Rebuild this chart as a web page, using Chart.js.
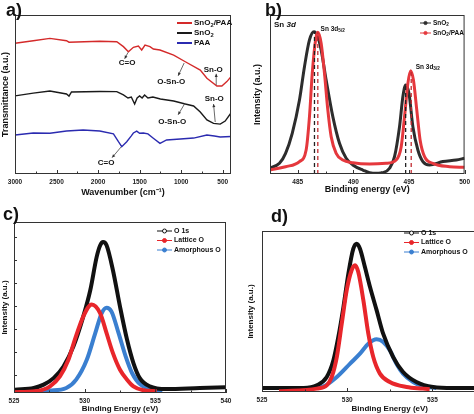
<!DOCTYPE html>
<html>
<head>
<meta charset="utf-8">
<script src="https://cdn.jsdelivr.net/npm/chart.js@4.4.1/dist/chart.umd.min.js"></script>
<style>
  html, body { margin: 0; padding: 0; background: #fff; width: 474px; height: 414px; overflow: hidden; }
  canvas { position: absolute; }
  .tag { position: absolute; font: bold 18px "Liberation Sans", Arial, sans-serif; color: #111; line-height: 18px; }
</style>
</head>
<body>
<canvas id="chartA" width="237" height="207" style="left:0;top:0"></canvas>
<canvas id="chartB" width="237" height="207" style="left:237px;top:0"></canvas>
<canvas id="chartC" width="237" height="207" style="left:0;top:207px"></canvas>
<canvas id="chartD" width="290" height="207" style="left:237px;top:207px"></canvas>
<div class="tag" style="left:6px;top:1px">a)</div>
<div class="tag" style="left:265px;top:1px">b)</div>
<div class="tag" style="left:3px;top:205px">c)</div>
<div class="tag" style="left:271px;top:207px">d)</div>
<script>
// a) FTIR spectra (wavenumber cm-1, transmittance a.u. with offsets)
const xTicksA = [500, 1000, 1500, 2000, 2500, 3000];
const wnSnO2PAA = [3000, 2780, 2580, 2380, 2350, 1980, 1775, 1695, 1635, 1575, 1515, 1475, 1435, 1375, 1335, 1255, 1090, 950, 770, 690, 570, 510, 450, 400];
const tSnO2PAA  = [82.2, 83.8, 85.3, 83.8, 82.9, 83.5, 83.2, 80.1, 76.9, 79.7, 80.5, 78.0, 81.1, 80.1, 78.6, 78.0, 74.8, 70.6, 65.4, 60.2, 55.3, 55.3, 58.1, 61.2];
const wnSnO2 = [3000, 2780, 2580, 2380, 2350, 2320, 1980, 1775, 1695, 1640, 1600, 1560, 1530, 1500, 1470, 1440, 1400, 1340, 1250, 1090, 950, 850, 770, 690, 610, 530, 470, 400];
const tSnO2  = [49.1, 50.9, 52.2, 50.3, 49.0, 51.6, 51.9, 51.8, 49.7, 47.8, 48.4, 44.0, 47.8, 49.1, 47.8, 49.7, 47.8, 48.4, 47.2, 45.9, 44.0, 42.8, 39.0, 34.0, 31.8, 31.4, 33.3, 38.4];
const wnPAA = [3000, 2780, 2580, 2380, 2180, 1980, 1815, 1755, 1715, 1655, 1600, 1575, 1535, 1500, 1455, 1400, 1335, 1255, 1175, 1010, 850, 690, 600, 530, 400];
const tPAA  = [24.5, 25.8, 25.6, 27.0, 27.7, 27.0, 25.2, 20.3, 17.2, 20.3, 24.0, 25.8, 27.0, 25.6, 25.8, 25.2, 22.5, 19.3, 21.4, 22.0, 22.6, 24.5, 23.9, 23.3, 23.6];

// b) Sn 3d XPS (binding energy eV, intensity a.u.)
const xTicksB = [485, 490, 495, 500];
const beSnO2 = [482.45, 483.35, 483.9, 484.5, 485.15, 485.6, 486.05, 486.45, 486.8, 487.1, 487.55, 488.15, 488.75, 489.35, 489.95, 490.85, 491.75, 492.65, 493.25, 493.7, 494.15, 494.45, 494.7, 495.0, 495.35, 495.8, 496.25, 496.85, 498.05, 499.25, 500];
const iSnO2  = [3.6, 6.7, 13, 25.6, 46.5, 67.5, 84.3, 89.5, 86.4, 78, 59.1, 36.1, 19.3, 9.9, 5.7, 2.5, 0.4, 0.8, 3.6, 10.9, 29.8, 48.6, 56, 50.7, 29.8, 15.1, 7.8, 5.7, 7.8, 8.8, 9.9];
const beSnO2PAA = [482.45, 483.9, 485.15, 485.75, 486.05, 486.3, 486.6, 486.8, 487.1, 487.4, 487.7, 488.0, 488.45, 489.05, 489.95, 491.45, 492.95, 493.85, 494.3, 494.6, 494.9, 495.15, 495.4, 495.7, 496.0, 496.4, 497.15, 498.65, 500];
const iSnO2PAA  = [2.5, 4.6, 7.8, 15.1, 36.1, 63.3, 84.3, 89.1, 82.2, 63.3, 40.3, 23.5, 13, 8.8, 7.1, 6.3, 6.7, 8.8, 17.2, 36.1, 57, 65, 59.1, 40.3, 21.4, 10.9, 6.7, 4.6, 4.2];
const peaksSnO2 = [486.5, 494.7];
const peakHSnO2 = [89.5, 56];
const peaksSnO2PAA = [486.8, 495.2];
const peakHSnO2PAA = [89.1, 65];

// c) O 1s, SnO2
const xTicksO = [525, 530, 535, 540];
const beO1sC = [525.07, 526.4, 527.1, 527.8, 528.5, 529.2, 529.9, 530.4, 530.85, 531.1, 531.3, 531.55, 532, 532.5, 533, 533.45, 533.9, 534.6, 535.8, 538.15, 540];
const iO1sC  = [1.9, 2.9, 4.9, 8.7, 15.5, 27.2, 44.7, 60.2, 79.6, 86.4, 88.3, 86.4, 71.8, 50.5, 31.1, 17.5, 8.7, 3.9, 2.3, 2.9, 3.3];
const beLatticeC = [525, 526.5, 527.55, 528.25, 528.85, 529.3, 529.9, 530.5, 531.1, 531.55, 532, 532.5, 533, 533.45, 534.15, 535.1];
const iLatticeC  = [0.5, 1.0, 3.9, 9.7, 19.4, 31.1, 44.7, 51.8, 46.6, 35, 23.3, 13.6, 7.8, 3.9, 1.6, 1];
const beAmorphC = [525, 527.55, 528.7, 529.4, 530.15, 530.75, 531.2, 531.55, 531.9, 532.4, 532.9, 533.35, 533.95, 534.9, 535.5];
const iAmorphC  = [0.5, 1.4, 2.9, 7.8, 19.4, 35, 46.6, 49.9, 47.6, 35, 21.4, 11.7, 4.9, 1.9, 1.6];
const yTicksC = [10.5, 24, 37.5, 51, 64.5, 78, 91.5];

// d) O 1s, SnO2/PAA
const beO1sD = [525, 527.44, 528.22, 528.8, 529.19, 529.48, 529.78, 530.07, 530.36, 530.56, 530.75, 531.04, 531.34, 531.73, 532.11, 532.7, 533.28, 534.06, 535.04, 536.21, 537.4, 540];
const iO1sD  = [2.5, 2.5, 4.1, 9.3, 19.7, 34.2, 52.8, 73.5, 89, 92.1, 89, 77.6, 65.2, 50.7, 36.2, 21.7, 12.4, 6.2, 3.1, 2.5, 2.5, 2.5];
const beLatticeD = [526, 528.22, 528.8, 529.09, 529.39, 529.68, 529.97, 530.26, 530.46, 530.65, 530.95, 531.24, 531.53, 531.92, 532.5, 533.48, 534.45, 534.84];
const iLatticeD  = [0.5, 2.1, 4.1, 9.3, 21.7, 42.4, 63.1, 75.6, 78.7, 74.5, 56.9, 36.2, 21.7, 11.4, 6.2, 3.1, 2.1, 1.7];
const beAmorphD = [527.0, 527.44, 528.61, 529.39, 530.17, 530.75, 531.24, 531.73, 532.11, 532.5, 532.89, 533.28, 533.87, 534.45, 535.23];
const iAmorphD  = [1.5, 2.1, 3.5, 9.3, 17.6, 23.8, 30, 32.7, 31.1, 25.9, 17.6, 11.4, 6.2, 3.5, 2.5];

const FAM = '"Liberation Sans", Arial, sans-serif';
const pts = (xs, ys) => xs.map((x, i) => ({x: x, y: ys[i]}));

function drawRich(ctx, parts, x, y, size, align) {
  const fontFor = (k, s) => (k === 'i' ? 'italic bold ' : 'bold ') + s + 'px ' + FAM;
  let w = 0;
  const items = parts.map(([t, k]) => {
    const s = (k === 'sub' || k === 'sup') ? size * 0.72 : size;
    ctx.font = fontFor(k, s);
    const tw = ctx.measureText(t).width;
    w += tw;
    return {t, k, s, tw};
  });
  let cx = align === 'center' ? x - w / 2 : (align === 'right' ? x - w : x);
  ctx.textAlign = 'left';
  ctx.textBaseline = 'middle';
  items.forEach(it => {
    ctx.font = fontFor(it.k, it.s);
    const dy = it.k === 'sub' ? size * 0.3 : (it.k === 'sup' ? -size * 0.35 : 0);
    ctx.fillText(it.t, cx, y + dy);
    cx += it.tw;
  });
}

// frame, inward ticks, notes, arrows and legend
const decor = {
  id: 'decor',
  afterDatasetsDraw(chart, args, o) {
    const {ctx, chartArea: a, scales: {x, y}} = chart;
    ctx.save();
    ctx.strokeStyle = '#333';
    ctx.lineWidth = 1;
    ctx.strokeRect(a.left + 0.5, a.top + 0.5, a.right - a.left - 1, a.bottom - a.top - 1);
    const start = Math.ceil(x.min / o.minorX - 1e-9) * o.minorX;
    for (let v = start; v <= x.max + 1e-9; v += o.minorX) {
      const px = Math.round(x.getPixelForValue(v)) + 0.5;
      const major = Math.abs(v / o.majorX - Math.round(v / o.majorX)) < 1e-6;
      ctx.beginPath();
      ctx.moveTo(px, a.bottom);
      ctx.lineTo(px, a.bottom - (major ? 4 : 2.5));
      ctx.stroke();
    }
    if (o.yTicks) {
      y.ticks.forEach(t => {
        const py = Math.round(y.getPixelForValue(t.value)) + 0.5;
        ctx.beginPath();
        ctx.moveTo(a.left, py);
        ctx.lineTo(a.left + 3, py);
        ctx.stroke();
      });
    }
    (o.arrows || []).forEach(ar => {
      const x1 = x.getPixelForValue(ar.x1), y1 = y.getPixelForValue(ar.y1);
      const x2 = x.getPixelForValue(ar.x2), y2 = y.getPixelForValue(ar.y2);
      ctx.strokeStyle = '#444';
      ctx.lineWidth = 0.8;
      ctx.beginPath();
      ctx.moveTo(x1, y1);
      ctx.lineTo(x2, y2);
      ctx.stroke();
      const ang = Math.atan2(y2 - y1, x2 - x1);
      ctx.fillStyle = '#333';
      ctx.beginPath();
      ctx.moveTo(x2, y2);
      ctx.lineTo(x2 - 3.5 * Math.cos(ang - 0.45), y2 - 3.5 * Math.sin(ang - 0.45));
      ctx.lineTo(x2 - 3.5 * Math.cos(ang + 0.45), y2 - 3.5 * Math.sin(ang + 0.45));
      ctx.closePath();
      ctx.fill();
    });
    ctx.fillStyle = '#111';
    (o.notes || []).forEach(n => {
      drawRich(ctx, n.parts, x.getPixelForValue(n.x), y.getPixelForValue(n.y), n.size, n.align);
    });
    const lg = o.legend;
    if (lg) {
      lg.items.forEach((it, i) => {
        const ly = lg.y + i * lg.dy;
        ctx.strokeStyle = it.color;
        ctx.lineWidth = lg.lw;
        ctx.beginPath();
        ctx.moveTo(lg.x, ly);
        ctx.lineTo(lg.x + lg.len, ly);
        ctx.stroke();
        if (it.marker) {
          ctx.beginPath();
          ctx.arc(lg.x + lg.len / 2, ly, lg.r, 0, Math.PI * 2);
          ctx.fillStyle = it.marker === 'open' ? '#fff' : it.color;
          ctx.fill();
          ctx.lineWidth = 1;
          ctx.stroke();
        }
        ctx.fillStyle = '#111';
        drawRich(ctx, it.parts, lg.x + lg.len + 2, ly, lg.size, 'left');
      });
    }
    ctx.restore();
  }
};
Chart.register(decor);

function makeOptions(p) {
  return {
    responsive: false,
    animation: false,
    devicePixelRatio: 1,
    layout: {padding: {top: p.top, right: p.right, left: 0, bottom: 0}},
    elements: {point: {radius: 0}, line: {tension: 0}},
    plugins: {legend: {display: false}, tooltip: {enabled: false}, decor: p.decor},
    scales: {
      x: {
        type: 'linear', min: p.xMin, max: p.xMax, reverse: !!p.reverse,
        afterFit: s => { s.height = p.xH; },
        afterBuildTicks: s => { s.ticks = p.xTicks.map(v => ({value: v})); },
        grid: {display: false, drawTicks: false},
        border: {display: false},
        ticks: {padding: p.tickPad, maxRotation: 0, autoSkip: false,
                callback: v => String(v),
                color: '#222', font: {family: FAM, size: 6.5, weight: 'bold'}},
        title: {display: true, text: p.xTitle, color: '#111', font: {family: FAM, size: p.titleSize, weight: 'bold'},
                padding: {top: 0, bottom: p.xTitlePad}}
      },
      y: {
        type: 'linear', min: 0, max: 100,
        afterFit: s => { s.width = p.yW; },
        afterBuildTicks: p.yTickList ? (s => { s.ticks = p.yTickList.map(v => ({value: v})); }) : undefined,
        grid: {display: false, drawTicks: false},
        border: {display: false},
        ticks: {display: false},
        title: {display: true, text: p.yTitle || 'Intensity (a.u.)', color: '#111', font: {family: FAM, size: p.titleSize, weight: 'bold'},
                padding: {top: p.yTitlePad, bottom: 0}}
      }
    }
  };
}

// a)
new Chart(document.getElementById('chartA'), {
  type: 'line',
  data: {datasets: [
    {data: pts(wnSnO2PAA, tSnO2PAA), borderColor: '#d42a2a', borderWidth: 1.4},
    {data: pts(wnSnO2, tSnO2), borderColor: '#1a1a1a', borderWidth: 1.4},
    {data: pts(wnPAA, tPAA), borderColor: '#2b2bb0', borderWidth: 1.4}
  ]},
  options: makeOptions({
    top: 15, right: 6, xMin: 400, xMax: 3000, reverse: true, xTicks: xTicksA, xH: 33, yW: 15,
    tickPad: 4, xTitle: 'Wavenumber (cm\u207B\u00B9)', xTitlePad: 9, yTitlePad: 0, titleSize: 9,
    yTitle: 'Transmittance (a.u.)',
    decor: {
      minorX: 250, majorX: 500,
      arrows: [
        {x1: 1639, y1: 76.5, x2: 1680, y2: 72.5},
        {x1: 964, y1: 69.8, x2: 1036, y2: 61.8},
        {x1: 578, y1: 56, x2: 578, y2: 63},
        {x1: 590, y1: 32.7, x2: 610, y2: 44},
        {x1: 952, y1: 44.7, x2: 1036, y2: 37.3},
        {x1: 1723, y1: 17, x2: 1831, y2: 10.3}
      ],
      notes: [
        {x: 1650, y: 69.8, parts: [['C=O', '']], size: 8, align: 'center'},
        {x: 1120, y: 58.2, parts: [['O-Sn-O', '']], size: 8, align: 'center'},
        {x: 614, y: 65.8, parts: [['Sn-O', '']], size: 8, align: 'center'},
        {x: 602, y: 47.2, parts: [['Sn-O', '']], size: 8, align: 'center'},
        {x: 1108, y: 32.7, parts: [['O-Sn-O', '']], size: 8, align: 'center'},
        {x: 1904, y: 6.9, parts: [['C=O', '']], size: 8, align: 'center'}
      ],
      legend: {x: 177, y: 23, dy: 10, len: 15, lw: 2, size: 8, items: [
        {color: '#d42a2a', parts: [['SnO', ''], ['2', 'sub'], ['/PAA', '']]},
        {color: '#1a1a1a', parts: [['SnO', ''], ['2', 'sub']]},
        {color: '#2b2bb0', parts: [['PAA', '']]}
      ]}
    }
  })
});

// b)
const dashed = (xs, hs, color) => xs.map((x, i) => ({
  data: [{x: x, y: 0}, {x: x, y: hs[i]}], borderColor: color, borderWidth: 1.3, borderDash: [4, 3]
}));
new Chart(document.getElementById('chartB'), {
  type: 'line',
  data: {datasets: [
    ...dashed(peaksSnO2PAA, peakHSnO2PAA, '#c22a2f'),
    ...dashed(peaksSnO2, peakHSnO2, '#222'),
    {data: pts(beSnO2PAA, iSnO2PAA), borderColor: '#e5383d', borderWidth: 3, cubicInterpolationMode: 'monotone'},
    {data: pts(beSnO2, iSnO2), borderColor: '#2d2d2d', borderWidth: 3, cubicInterpolationMode: 'monotone'}
  ]},
  options: makeOptions({
    top: 15, right: 8, xMin: 482.5, xMax: 500, xTicks: xTicksB, xH: 33, yW: 33,
    tickPad: 4, xTitle: 'Binding energy (eV)', xTitlePad: 12, yTitlePad: 15, titleSize: 9,
    decor: {
      minorX: 2.5, majorX: 5,
      notes: [
        {x: 482.86, y: 93.7, parts: [['Sn ', ''], ['3d', 'i']], size: 8, align: 'left'},
        {x: 487.05, y: 91.2, parts: [['Sn 3d', ''], ['5/2', 'sub']], size: 6.5, align: 'left'},
        {x: 495.6, y: 67.3, parts: [['Sn 3d', ''], ['3/2', 'sub']], size: 6.5, align: 'left'}
      ],
      legend: {x: 183, y: 23, dy: 10, len: 11, lw: 1, r: 1.6, size: 6.5, items: [
        {color: '#2d2d2d', marker: 'fill', parts: [['SnO', ''], ['2', 'sub']]},
        {color: '#e5383d', marker: 'fill', parts: [['SnO', ''], ['2', 'sub'], ['/PAA', '']]}
      ]}
    }
  })
});

// c)
const oLegend = (x, y) => ({x: x, y: y, dy: 9.5, len: 15, lw: 1, r: 2, size: 7, items: [
  {color: '#111', marker: 'open', parts: [['O 1s', '']]},
  {color: '#e8262b', marker: 'fill', parts: [['Lattice O', '']]},
  {color: '#3a7fd0', marker: 'fill', parts: [['Amorphous O', '']]}
]});
new Chart(document.getElementById('chartC'), {
  type: 'line',
  data: {datasets: [
    {data: pts(beLatticeC, iLatticeC), borderColor: '#e8262b', borderWidth: 4, cubicInterpolationMode: 'monotone'},
    {data: pts(beO1sC, iO1sC), borderColor: '#111', borderWidth: 4, cubicInterpolationMode: 'monotone'},
    {data: pts(beAmorphC, iAmorphC), borderColor: '#3a7fd0', borderWidth: 4, cubicInterpolationMode: 'monotone'}
  ]},
  options: makeOptions({
    top: 15, right: 11, xMin: 525, xMax: 540, xTicks: xTicksO, xH: 21, yW: 14, yTickList: yTicksC,
    tickPad: 4, xTitle: 'Binding Energy (eV)', xTitlePad: 0, yTitlePad: 0, titleSize: 8,
    decor: {minorX: 2.5, majorX: 5, yTicks: true, legend: oLegend(157, 24)}
  })
});

// d)
new Chart(document.getElementById('chartD'), {
  type: 'line',
  data: {datasets: [
    {data: pts(beLatticeD, iLatticeD), borderColor: '#e8262b', borderWidth: 4, cubicInterpolationMode: 'monotone'},
    {data: pts(beO1sD, iO1sD), borderColor: '#111', borderWidth: 4, cubicInterpolationMode: 'monotone'},
    {data: pts(beAmorphD, iAmorphD), borderColor: '#3a7fd0', borderWidth: 4, cubicInterpolationMode: 'monotone'}
  ]},
  options: makeOptions({
    top: 24, right: 8, xMin: 525, xMax: 540, xTicks: xTicksO, xH: 22, yW: 25,
    tickPad: 4, xTitle: 'Binding Energy (eV)', xTitlePad: 0, yTitlePad: 9, titleSize: 8,
    decor: {minorX: 2.5, majorX: 5, legend: oLegend(167, 26)}
  })
});
</script>
</body>
</html>
